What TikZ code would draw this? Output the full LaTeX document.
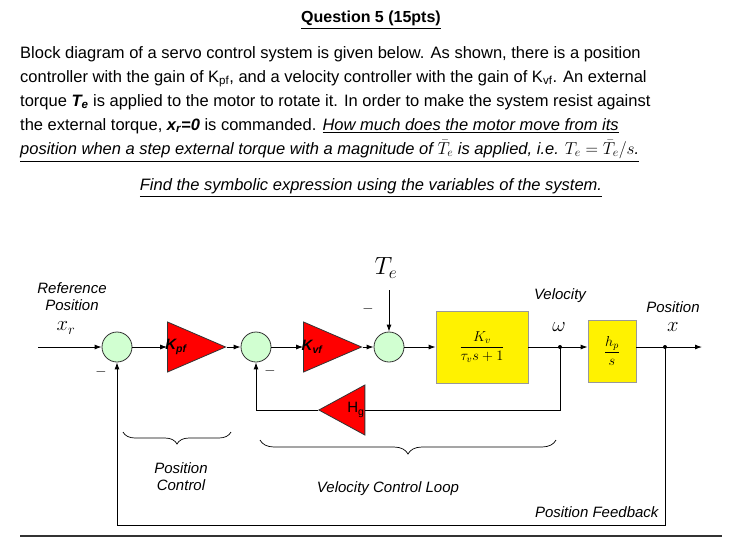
\documentclass[tikz,border=0pt]{standalone}
\usepackage{amsmath}
\usepackage{fontspec}
\setmainfont{Liberation Sans}
\usetikzlibrary{shapes.geometric,arrows.meta,decorations.pathreplacing}
\begin{document}
\begin{tikzpicture}[x=1pt,y=-1pt,
 sum/.style={circle,draw=black!80,fill=green!18,minimum size=30pt,inner sep=0pt,line width=0.8pt},
 tri/.style={isosceles triangle,isosceles triangle stretches,draw=black!80,fill=red,minimum width=50pt,minimum height=58pt,inner sep=0pt,line width=0.8pt},
 blk/.style={draw=black!40,fill=yellow,line width=0.8pt,inner sep=0pt},
 ar/.style={-{Latex[length=7pt,width=5pt]},line width=0.9pt},
 ln/.style={line width=0.9pt},
 lab/.style={font=\fontsize{15}{17}\selectfont\itshape,align=center}]
\useasboundingbox (0,0) rectangle (742,550);
\fill[white] (0,0) rectangle (742,550);
\node[font=\fontsize{16}{18}\selectfont\bfseries] (title) at (371,20) {\underline{Question 5 (15pts)}};
\node[anchor=north west,align=left,inner sep=0pt,font=\fontsize{16.5}{24}\selectfont] (para) at (20,46) {%
Block diagram of a servo control system is given below. As shown, there is a position\\
controller with the gain of K\textsubscript{pf}, and a velocity controller with the gain of K\textsubscript{vf}. An external\\
torque \textbf{\textit{T\textsubscript{e}}} is applied to the motor to rotate it. In order to make the system resist against\\
the external torque, \textbf{\textit{x\textsubscript{r}=0}} is commanded. \underline{\textit{How much does the motor move from its}}\\
\underline{\textit{position when a step external torque with a magnitude of $\bar{T}_e$ is applied, i.e. $T_e=\bar{T}_e/s$.}}};
\node[font=\fontsize{16.5}{20}\selectfont\itshape] (find) at (371,188) {\underline{Find the symbolic expression using the variables of the system.}};
% blocks
\node[sum] (s1) at (117,347) {};
\node[tri] (kpf) at (184,347) {};
\node[font=\fontsize{15}{17}\selectfont\bfseries\itshape] (kpft) at (176,347) {K\textsubscript{pf}};
\node[sum] (s2) at (256,347) {};
\node[tri] (kvf) at (320,347) {};
\node[font=\fontsize{15}{17}\selectfont\bfseries\itshape] (kvft) at (312,347) {K\textsubscript{vf}};
\node[sum] (s3) at (389,347) {};
\node[blk,minimum width=92pt,minimum height=72pt] (g1) at (482,347) {\Large$\dfrac{K_v}{\tau_v s+1}$};
\node[blk,minimum width=48pt,minimum height=62pt] (g2) at (612,351) {\Large$\dfrac{h_p}{s}$};
\node[tri,shape border rotate=180,minimum width=50pt,minimum height=46pt] (hg) at (350,410) {};
\node[font=\fontsize{15}{17}\selectfont] (hgt) at (356,410) {H\textsubscript{g}};
\coordinate (in) at (38,347);
\coordinate (w) at (560,347);
\coordinate (xo) at (665,347);
\coordinate (out) at (702,347);
\coordinate (te) at (389,290);
\coordinate (fb1) at (560,410);
\coordinate (fb2) at (256,410);
\coordinate (pf1) at (665,525);
\coordinate (pf2) at (117,525);
% connectors
\draw[ar] (in) -- (s1);
\draw[ar] (s1) -- (kpf.west);
\draw[ar] (kpf.east) -- (s2);
\draw[ar] (s2) -- (kvf.west);
\draw[ar] (kvf.east) -- (s3);
\draw[ar] (s3) -- (g1);
\draw[ar] (g1) -- (g2.west|-w);
\draw[ar] (g2.east|-xo) -- (out);
\draw[ar] (te) -- (s3);
\fill (w) circle (2pt) (xo) circle (2pt);
\draw[ln] (w) -- (fb1) -- (hg.east|-fb1);
\draw[ar] (hg.west) -- (fb2) -- (s2);
\draw[ar] (xo) -- (pf1) -- (pf2) -- (s1);
% labels
\node at (386,268) {\fontsize{26}{28}\selectfont$T_e$};
\node at (368,309) {\Large$-$};
\node at (101,372) {\Large$-$};
\node at (270,371) {\Large$-$};
\node[lab] (ref) at (72,297) {Reference\\Position};
\node at (66,328) {\fontsize{22}{24}\selectfont$x_r$};
\node[lab] (vel) at (560,296) {Velocity};
\node at (559,327) {\fontsize{22}{24}\selectfont$\omega$};
\node[lab] (pos) at (673,307) {Position};
\node at (673,327) {\fontsize{22}{24}\selectfont$x$};
\draw[ln,line width=0.7pt,decorate,decoration={brace,amplitude=12pt,mirror}] (123,432) -- (231,432);
\draw[ln,line width=0.7pt,decorate,decoration={brace,amplitude=14pt,mirror}] (260,440) -- (556,440);
\node[lab] (pc) at (181,477) {Position\\Control};
\node[lab] (vcl) at (388,489) {Velocity Control Loop};
\node[lab,anchor=east] (pfb) at (662,512) {Position Feedback};
\draw[line width=1.5pt,black!80] (20,536) -- (722,536);
\end{tikzpicture}
\end{document}
